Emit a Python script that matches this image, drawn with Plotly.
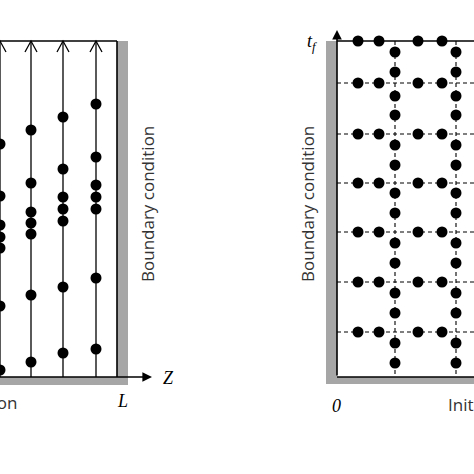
import plotly.graph_objects as go

# Left panel: characteristic lines (x position) and node times (y, pixel-like units)
left_lines_x = [0, 31, 63, 96]
left_dots_y = [
    [144, 196, 225, 237, 248, 306, 370],
    [130, 183, 212, 223, 234, 295, 362],
    [117, 169, 197, 209, 221, 287, 353],
    [104, 157, 185, 197, 209, 278, 349],
]

# Right panel: regular grid
right_cols_x = [395, 456]
right_rows_y = [41, 83, 134, 183, 232, 282, 332]
right_row_dots_x = [358, 379, 418, 442]
right_col_dots_y = [52, 72, 96, 115, 145, 165, 193, 213, 243, 263, 293, 313, 343, 363]

fig = go.Figure()
shapes = []
annots = []
font = dict(family="Open Sans", size=17, color="#333")
italic = dict(family="Liberation Serif", size=18, color="black")

# ---- left panel ----
shapes.append(dict(type="rect", x0=117, x1=128, y0=41, y1=385, fillcolor="#a6a6a6", line_width=0))
shapes.append(dict(type="rect", x0=-5, x1=128, y0=377, y1=385, fillcolor="#a6a6a6", line_width=0))
shapes.append(dict(type="line", x0=-5, x1=117, y0=41, y1=41, line=dict(color="black", width=1.3)))
shapes.append(dict(type="line", x0=117, x1=117, y0=41, y1=377, line=dict(color="black", width=1.6)))
for lx in left_lines_x:
    shapes.append(dict(type="line", x0=lx, x1=lx, y0=41, y1=377, line=dict(color="black", width=1.3)))
    # open chevron arrowhead
    shapes.append(dict(type="path", path=f"M {lx-6},52 L {lx},41 L {lx+6},52",
                       line=dict(color="black", width=1.3)))
annots.append(dict(x=152, y=377, ax=-5, ay=377, xref="x", yref="y", axref="x", ayref="y",
                   showarrow=True, arrowhead=2, arrowsize=1.2, arrowwidth=1.6,
                   arrowcolor="black", text=""))
for lx, ys in zip(left_lines_x, left_dots_y):
    fig.add_trace(go.Scatter(x=[lx] * len(ys), y=ys, mode="markers", cliponaxis=False,
                             marker=dict(color="black", size=11), showlegend=False))
annots += [
    dict(x=168, y=378, text="<i>Z</i>", showarrow=False, font=italic),
    dict(x=122, y=401, text="<i>L</i>", showarrow=False, font=italic),
    dict(x=19, y=402, text="Initial condition", xanchor="right", showarrow=False, font=font),
    dict(x=147, y=204, text="Boundary condition", textangle=-90, showarrow=False, font=font),
]

# ---- right panel ----
shapes.append(dict(type="rect", x0=326, x1=337, y0=41, y1=384, fillcolor="#a6a6a6", line_width=0))
shapes.append(dict(type="rect", x0=326, x1=490, y0=377, y1=384, fillcolor="#a6a6a6", line_width=0))
shapes.append(dict(type="line", x0=337, x1=490, y0=41, y1=41, line=dict(color="black", width=1.3)))
shapes.append(dict(type="line", x0=337, x1=490, y0=377, y1=377, line=dict(color="black", width=1.6)))
annots.append(dict(x=337, y=30, ax=337, ay=377, xref="x", yref="y", axref="x", ayref="y",
                   showarrow=True, arrowhead=2, arrowsize=1.2, arrowwidth=1.6,
                   arrowcolor="black", text=""))
for ry in right_rows_y[1:]:
    shapes.append(dict(type="line", x0=337, x1=490, y0=ry, y1=ry,
                       line=dict(color="black", width=1.1, dash="4px,3px")))
for cx in right_cols_x:
    shapes.append(dict(type="line", x0=cx, x1=cx, y0=41, y1=377,
                       line=dict(color="black", width=1.1, dash="4px,3px")))
rx, ry_ = [], []
for ry in right_rows_y:
    for dx in right_row_dots_x:
        rx.append(dx); ry_.append(ry)
for cx in right_cols_x:
    for dy in right_col_dots_y:
        rx.append(cx); ry_.append(dy)
fig.add_trace(go.Scatter(x=rx, y=ry_, mode="markers",
                         marker=dict(color="black", size=11), showlegend=False))
annots += [
    dict(x=312, y=42, text="<i>t<sub>f</sub></i>", showarrow=False, font=italic),
    dict(x=336, y=406, text="<i>0</i>", showarrow=False, font=italic),
    dict(x=446, y=404, text="Initial condition", xanchor="left", showarrow=False, font=font),
    dict(x=307, y=204, text="Boundary condition", textangle=-90, showarrow=False, font=font),
]

fig.update_layout(width=474, height=474, margin=dict(l=0, r=0, t=0, b=0),
                  plot_bgcolor="white", paper_bgcolor="white",
                  shapes=shapes, annotations=annots)
fig.update_xaxes(range=[0, 474], visible=False, fixedrange=True)
fig.update_yaxes(range=[474, 0], visible=False, fixedrange=True)
fig.write_html("out.html", config={"displayModeBar": False},
               post_script="document.body.style.margin='0';")
